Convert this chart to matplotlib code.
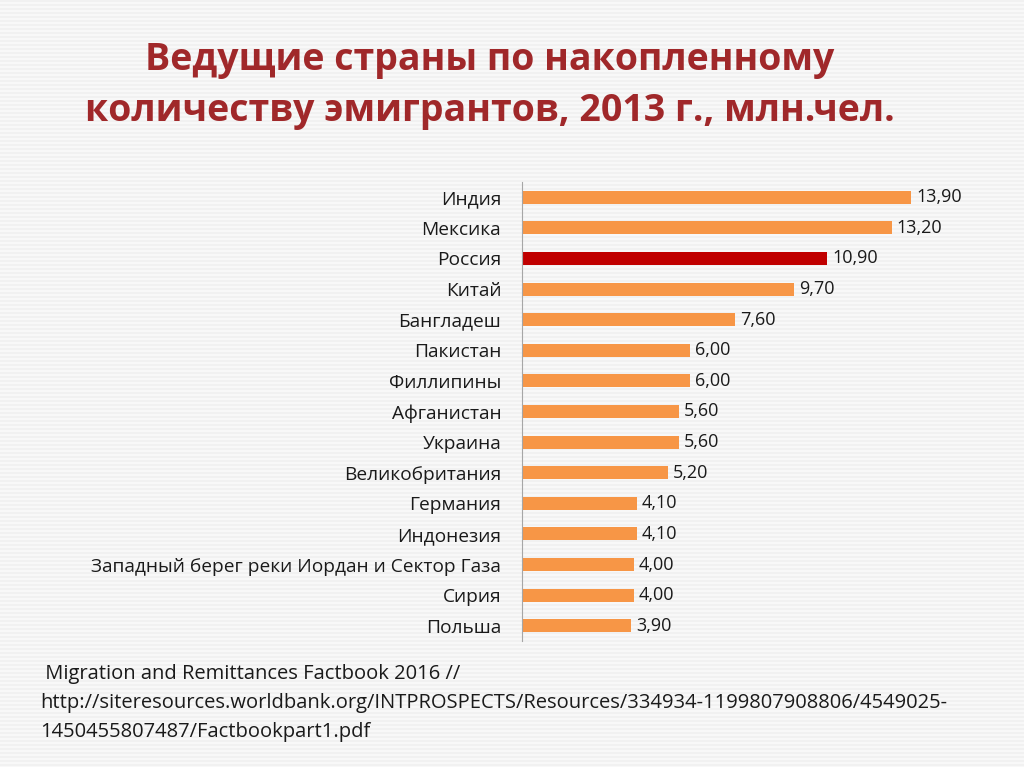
import numpy as np
import matplotlib.pyplot as plt

countries = ['Индия', 'Мексика', 'Россия', 'Китай', 'Бангладеш', 'Пакистан',
             'Филлипины', 'Афганистан', 'Украина', 'Великобритания', 'Германия',
             'Индонезия', 'Западный берег реки Иордан и Сектор Газа', 'Сирия', 'Польша']
values = [13.9, 13.2, 10.9, 9.7, 7.6, 6.0, 6.0, 5.6, 5.6, 5.2, 4.1, 4.1, 4.0, 4.0, 3.9]
highlight = 'Россия'

plt.rcParams['font.family'] = ['Open Sans', 'DejaVu Sans']

W, H = 1024, 767
fig = plt.figure(figsize=(W / 100, H / 100), dpi=100)
fig.patch.set_facecolor('#f1f1f1')

# faint striped background like the slide
for yy in np.arange(0, H, 4):
    fig.add_artist(plt.Line2D([0, 1], [yy / H, yy / H], color='#fafafa', lw=1.2, zorder=0))

ax = fig.add_axes([522 / W, 1 - 641 / H, 420 / W, (641 - 182) / H])
ax.set_facecolor('none')

y = np.arange(len(countries))
colors = ['#c00000' if c == highlight else '#f79646' for c in countries]
ax.barh(y, values, height=0.42, color=colors)
for yi, v in zip(y, values):
    ax.text(v + 0.18, yi, f'{v:.2f}'.replace('.', ','), va='center', ha='left',
            fontsize=13, color='#1a1a1a')

ax.set_xlim(0, 15)
ax.set_ylim(len(countries) - 0.5, -0.5)
ax.set_yticks(y)
ax.set_yticklabels(countries, fontsize=13.8, color='#1a1a1a')
ax.tick_params(axis='y', length=0, pad=15)
ax.set_xticks([])
for s in ['top', 'right', 'bottom']:
    ax.spines[s].set_visible(False)
ax.spines['left'].set_color('#a6a6a6')

fig.text(490 / W, 1 - 60 / H, 'Ведущие страны по накопленному', ha='center', va='center',
         fontsize=27, fontweight='bold', color='#a0282a')
fig.text(490 / W, 1 - 111 / H, 'количеству эмигрантов, 2013 г., млн.чел.', ha='center',
         va='center', fontsize=27, fontweight='bold', color='#a0282a')

source = (' Migration and Remittances Factbook 2016 //\n'
          'http://siteresources.worldbank.org/INTPROSPECTS/Resources/334934-1199807908806/4549025-\n'
          '1450455807487/Factbookpart1.pdf')
fig.text(40 / W, 1 - 703 / H, source, ha='left', va='center', fontsize=14.5,
         color='#1a1a1a', linespacing=1.6)

fig.savefig('out.png', dpi=100, facecolor=fig.get_facecolor())
